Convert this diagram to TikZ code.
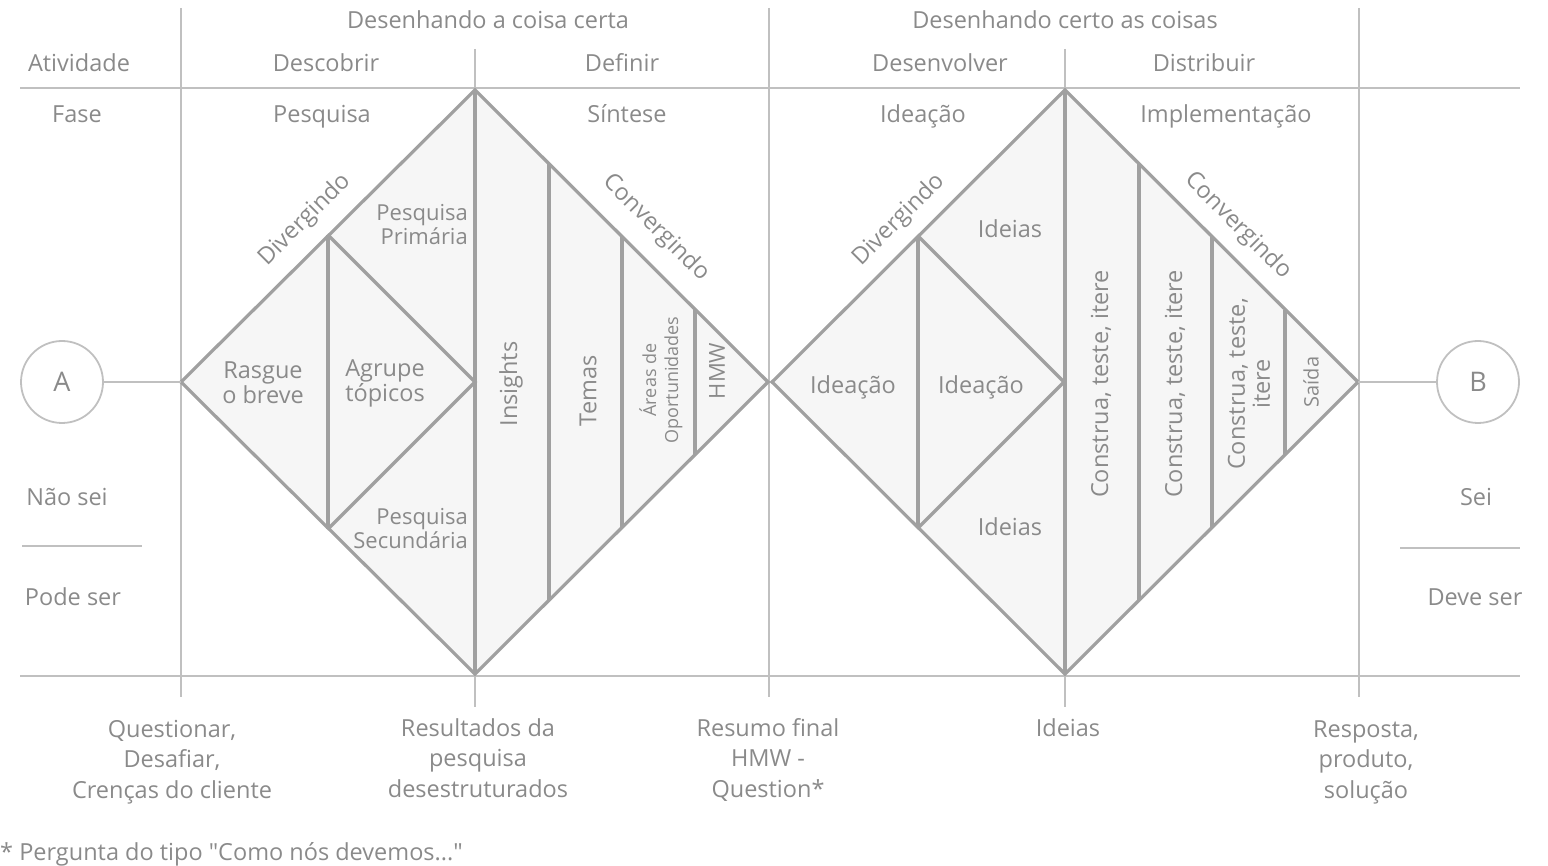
\documentclass[tikz,border=0pt]{standalone}
\usepackage{fontspec}
\setmainfont{Open Sans}
\newfontfamily\plainfont{Open Sans}[Ligatures=TeXOff]
\definecolor{tcol}{RGB}{138,138,138}
\definecolor{gcol}{RGB}{192,192,192}
\definecolor{dcol}{RGB}{160,160,160}
\definecolor{fcol}{RGB}{246,246,246}
\begin{document}
\begin{tikzpicture}[x=1pt,y=-1pt,
  txt/.style={text=tcol,font=\fontsize{23.5}{30.5}\selectfont,inner sep=0,align=center},
  one/.style={txt,text height=17,text depth=0pt},
  inl/.style={text=tcol,font=\fontsize{23.5}{25}\selectfont,inner sep=0,align=center},
  inr/.style={text=tcol,font=\fontsize{22}{24}\selectfont,inner sep=0,align=right,anchor=east},
  sml/.style={text=tcol,font=\fontsize{18}{22}\selectfont,inner sep=0,align=center},
  grid/.style={draw=gcol,line width=1.6},
  dline/.style={draw=dcol,line width=3.2,line join=miter},
  endcircle/.style={circle,draw=gcol,line width=1.8,minimum size=82,inner sep=0,text=tcol,font=\fontsize{27}{30}\selectfont}]
\useasboundingbox (0,0) rectangle (1548,866);
% grid
\draw[grid] (20,88) -- (1520,88);
\draw[grid] (20,676) -- (1520,676);
\draw[grid] (181,8) -- (181,697);
\draw[grid] (475,49) -- (475,707);
\draw[grid] (769,8) -- (769,697);
\draw[grid] (1065,49) -- (1065,707);
\draw[grid] (1359,8) -- (1359,697);
\draw[grid] (22,546) -- (142,546);
\draw[grid] (1400,548) -- (1520,548);
% diamond coordinates
\coordinate (d1l) at (181,382); \coordinate (d1t) at (475,90);
\coordinate (d1r) at (768,382); \coordinate (d1b) at (475,674);
\coordinate (d2l) at (772,382); \coordinate (d2t) at (1065,90);
\coordinate (d2r) at (1358,382); \coordinate (d2b) at (1065,674);
% diamond 1
\filldraw[dline,fill=fcol] (d1l) -- (d1t) -- (d1r) -- (d1b) -- cycle;
\draw[dline] (328,235) -- (328,529);
\draw[dline] (328,235) -- (475,382) -- (328,529);
\draw[dline] (d1t) -- (d1b);
\draw[dline] (549,164) -- (549,600);
\draw[dline] (622,237) -- (622,527);
\draw[dline] (695,310) -- (695,454);
% diamond 2
\filldraw[dline,fill=fcol] (d2l) -- (d2t) -- (d2r) -- (d2b) -- cycle;
\draw[dline] (918,236) -- (918,528);
\draw[dline] (918,236) -- (1064,382) -- (918,528);
\draw[dline] (d2t) -- (d2b);
\draw[dline] (1139,164) -- (1139,600);
\draw[dline] (1212,237) -- (1212,527);
\draw[dline] (1285,310) -- (1285,454);
% end circles
\node[endcircle] (A) at (62,382) {A};
\node[endcircle] (B) at (1478,382) {B};
\draw[grid] (A.east) -- (d1l);
\draw[grid] (d2r) -- (B.west);
% header texts
\node[one] (h1) at (488,20) {Desenhando a coisa certa};
\node[one] (h2) at (1065,20) {Desenhando certo as coisas};
\node[one] (r2a) at (79,63) {Atividade};
\node[one] (r2b) at (326,63) {Descobrir};
\node[one] (r2c) at (622,63) {Definir};
\node[one] (r2d) at (940,63) {Desenvolver};
\node[one] (r2e) at (1204,63) {Distribuir};
\node[one] (r3a) at (77,114) {Fase};
\node[one] (r3b) at (322,114) {Pesquisa};
\node[one] (r3c) at (627,114) {Síntese};
\node[one] (r3d) at (923,114) {Ideação};
\node[one] (r3e) at (1226,114) {Implementação};
% diamond 1 labels
\node[txt,rotate=45] (dv1) at (305,220) {Divergindo};
\node[txt,rotate=-45] (cv1) at (656,228) {Convergindo};
\node[inr] (pp) at (468,225) {Pesquisa\\Primária};
\node[inl] (rb) at (263,383) {Rasgue\\o breve};
\node[inl] (at) at (385,383) {Agrupe\\tópicos};
\node[inr] (ps) at (468,529) {Pesquisa\\Secundária};
\node[txt,rotate=90] (ins) at (511,384) {Insights};
\node[txt,rotate=90] (tem) at (588,391) {Temas};
\node[sml,rotate=90] (ao) at (661,380) {Áreas de\\Oportunidades};
\node[txt,rotate=90,font=\fontsize{22}{25}\selectfont] (hmw) at (717,371) {HMW};
% diamond 2 labels
\node[txt,rotate=45] (dv2) at (899,220) {Divergindo};
\node[txt,rotate=-45] (cv2) at (1238,226) {Convergindo};
\node[one] (id1) at (853,385) {Ideação};
\node[one] (id2) at (981,385) {Ideação};
\node[one] (ie1) at (1010,229) {Ideias};
\node[one] (ie2) at (1010,527) {Ideias};
\node[txt,rotate=90] (c1) at (1101,384) {Construa, teste, itere};
\node[txt,rotate=90] (c2) at (1175,384) {Construa, teste, itere};
\node[inl,rotate=90] (c3) at (1249,384) {Construa, teste,\\itere};
\node[txt,rotate=90,font=\fontsize{20}{24}\selectfont] (sai) at (1311,382) {Saída};
% side labels
\node[one] (ns) at (67,497) {Não sei};
\node[one] (pd) at (73,597) {Pode ser};
\node[one] (sei) at (1476,497) {Sei};
\node[one] (ds) at (1475,597) {Deve ser};
% bottom labels
\node[txt] (b1) at (172,762) {Questionar,\\Desafiar,\\Crenças do cliente};
\node[txt] (b2) at (478,758) {Resultados da\\pesquisa\\desestruturados};
\node[txt] (b3) at (768,760) {Resumo final\\HMW -\\Question*};
\node[one] (b4) at (1068,728) {Ideias};
\node[txt] (b5) at (1366,762) {Resposta,\\produto,\\solução};
\node[one,anchor=west,font=\plainfont\fontsize{23.5}{30.5}\selectfont] (fn) at (0,852) {* Pergunta do tipo "Como nós devemos..."};
\end{tikzpicture}
\end{document}
